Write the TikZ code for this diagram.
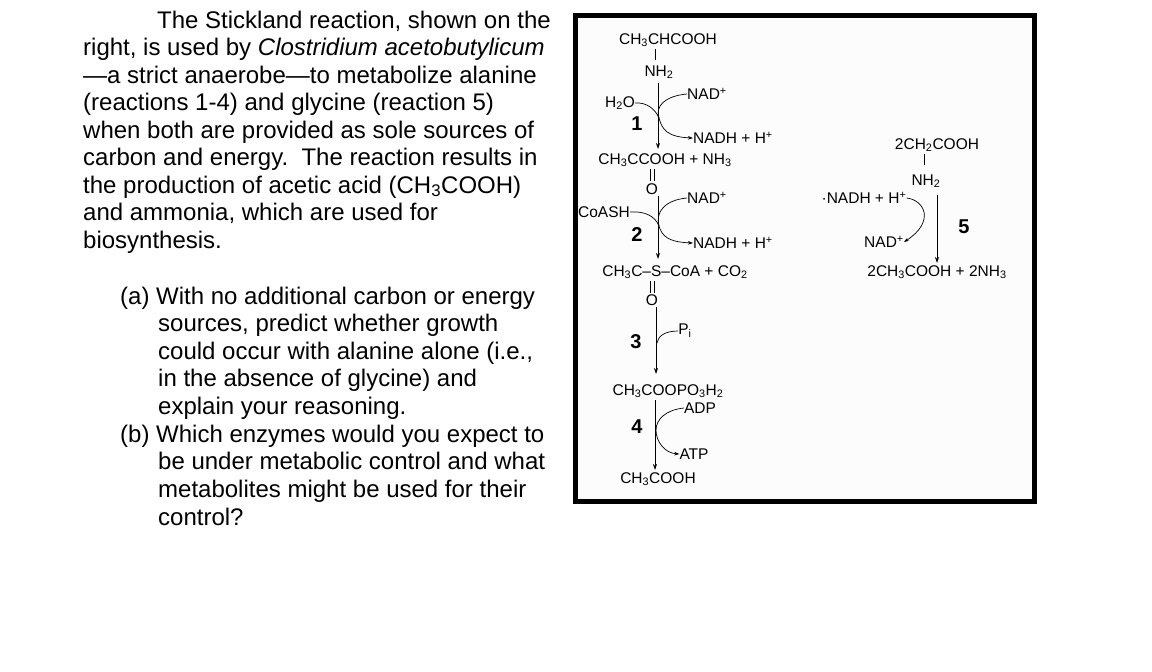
\documentclass[tikz,border=0pt]{standalone}
\usepackage{fontspec}
\setmainfont{Liberation Sans}
\usetikzlibrary{arrows.meta}
\begin{document}
\begin{tikzpicture}[x=1pt,y=-1pt,
  lt/.style={anchor=base west,inner sep=0,font=\fontsize{24}{28}\selectfont},
  ch/.style={inner sep=0,font=\fontsize{15.5}{18}\selectfont},
  num/.style={inner sep=0,font=\fontsize{20}{22}\selectfont\bfseries},
  rx/.style={-{Stealth[length=6pt,width=4pt]},line width=0.8pt},
  side/.style={line width=0.7pt},
  sidea/.style={line width=0.7pt,-{Stealth[length=5pt,width=3.5pt]}}]
\useasboundingbox (0,0) rectangle (1152,672);
\fill[white] (0,0) rectangle (1152,672);
% left text
\node[lt] (l1) at (157,28) {The Stickland reaction, shown on the};
\node[lt] (l2) at (83,55) {right, is used by \textit{Clostridium acetobutylicum}};
\node[lt] (l3) at (83,83) {—a strict anaerobe—to metabolize alanine};
\node[lt] (l4) at (83,110) {(reactions 1-4) and glycine (reaction 5)};
\node[lt] (l5) at (83,138) {when both are provided as sole sources of};
\node[lt] (l6) at (83,165) {carbon and energy.\ \ The reaction results in};
\node[lt] (l7) at (83,193) {the production of acetic acid (CH\textsubscript{3}COOH)};
\node[lt] (l8) at (83,220) {and ammonia, which are used for};
\node[lt] (l9) at (83,248) {biosynthesis.};
\node[lt] (a1) at (120,304) {(a) With no additional carbon or energy};
\node[lt] (a2) at (158,331) {sources, predict whether growth};
\node[lt] (a3) at (158,359) {could occur with alanine alone (i.e.,};
\node[lt] (a4) at (158,386) {in the absence of glycine) and};
\node[lt] (a5) at (158,414) {explain your reasoning.};
\node[lt] (b1) at (120,442) {(b) Which enzymes would you expect to};
\node[lt] (b2) at (158,469) {be under metabolic control and what};
\node[lt] (b3) at (158,497) {metabolites might be used for their};
\node[lt] (b4) at (158,525) {control?};
% box
\draw[line width=5pt,fill=white!99!black] (575,15) rectangle (1034,501);
% left pathway
\node[ch] (m1) at (668,40) {CH\textsubscript{3}CHCOOH};
\draw[side] (655,49) -- (655,60);
\node[ch] (n1) at (659,72) {NH\textsubscript{2}};
\node[ch] (h2o) at (620,103) {H\textsubscript{2}O};
\node[ch] (nad1) at (707,94) {NAD\textsuperscript{+}};
\node[num] (r1) at (637,124) {1};
\node[ch] (nadh1) at (733,138) {NADH + H\textsuperscript{+}};
\draw[rx] (658,83) -- (658,149);
\draw[side] (h2o.east) .. controls (645,102) and (655,108) .. (659,118);
\draw[side] (nad1.west) .. controls (665,96) and (655,106) .. (659,118);
\draw[sidea] (659,118) .. controls (662,130) and (668,137) .. (nadh1.west);
\node[ch] (m2) at (665,160) {CH\textsubscript{3}CCOOH + NH\textsubscript{3}};
\draw[side] (650,169) -- (650,181) (654,169) -- (654,181);
\node[ch] (o2) at (652,189) {O};
\node[ch] (coash) at (604,212) {CoASH};
\node[ch] (nad2) at (707,198) {NAD\textsuperscript{+}};
\node[num] (r2) at (637,235) {2};
\draw[rx] (658,196) -- (658,259);
\node[ch] (nadh2) at (733,243) {NADH + H\textsuperscript{+}};
\draw[side] (coash.east) .. controls (645,211) and (655,216) .. (659,226);
\draw[side] (nad2.west) .. controls (665,200) and (655,212) .. (659,226);
\draw[sidea] (659,226) .. controls (662,236) and (668,242) .. (nadh2.west);
\node[ch] (m3) at (675,272) {CH\textsubscript{3}C–S–CoA + CO\textsubscript{2}};
\draw[side] (650,281) -- (650,293) (654,281) -- (654,293);
\node[ch] (o3) at (652,300) {O};
\node[ch] (pi) at (685,331) {P\textsubscript{i}};
\node[num] (r3) at (636,342) {3};
\draw[rx] (656,307) -- (656,374);
\draw[side] (pi.west) .. controls (665,331) and (658,336) .. (657,343);
\node[ch] (m4) at (668,391) {CH\textsubscript{3}COOPO\textsubscript{3}H\textsubscript{2}};
\node[ch] (adp) at (700,408) {ADP};
\node[num] (r4) at (637,427) {4};
\node[ch] (atp) at (694,454) {ATP};
\draw[rx] (655,400) -- (655,470);
\draw[side] (adp.west) .. controls (665,410) and (656,420) .. (656,430);
\draw[sidea] (656,430) .. controls (656,442) and (665,453) .. (atp.west);
\node[ch] (m5) at (658,479) {CH\textsubscript{3}COOH};
% right pathway
\node[ch] (g1) at (937,145) {2CH\textsubscript{2}COOH};
\draw[side] (924,154) -- (924,165);
\node[ch] (gn) at (926,181) {NH\textsubscript{2}};
\node[ch] (nadh5) at (864,198) {·NADH + H\textsuperscript{+}};
\node[num] (r5) at (964,227) {5};
\node[ch] (nad5) at (884,242) {NAD\textsuperscript{+}};
\draw[rx] (937,195) -- (937,263);
\draw[sidea] (nadh5.east) .. controls (925,200) and (935,222) .. (nad5.east);
\node[ch] (g2) at (937,272) {2CH\textsubscript{3}COOH + 2NH\textsubscript{3}};
\end{tikzpicture}
\end{document}
